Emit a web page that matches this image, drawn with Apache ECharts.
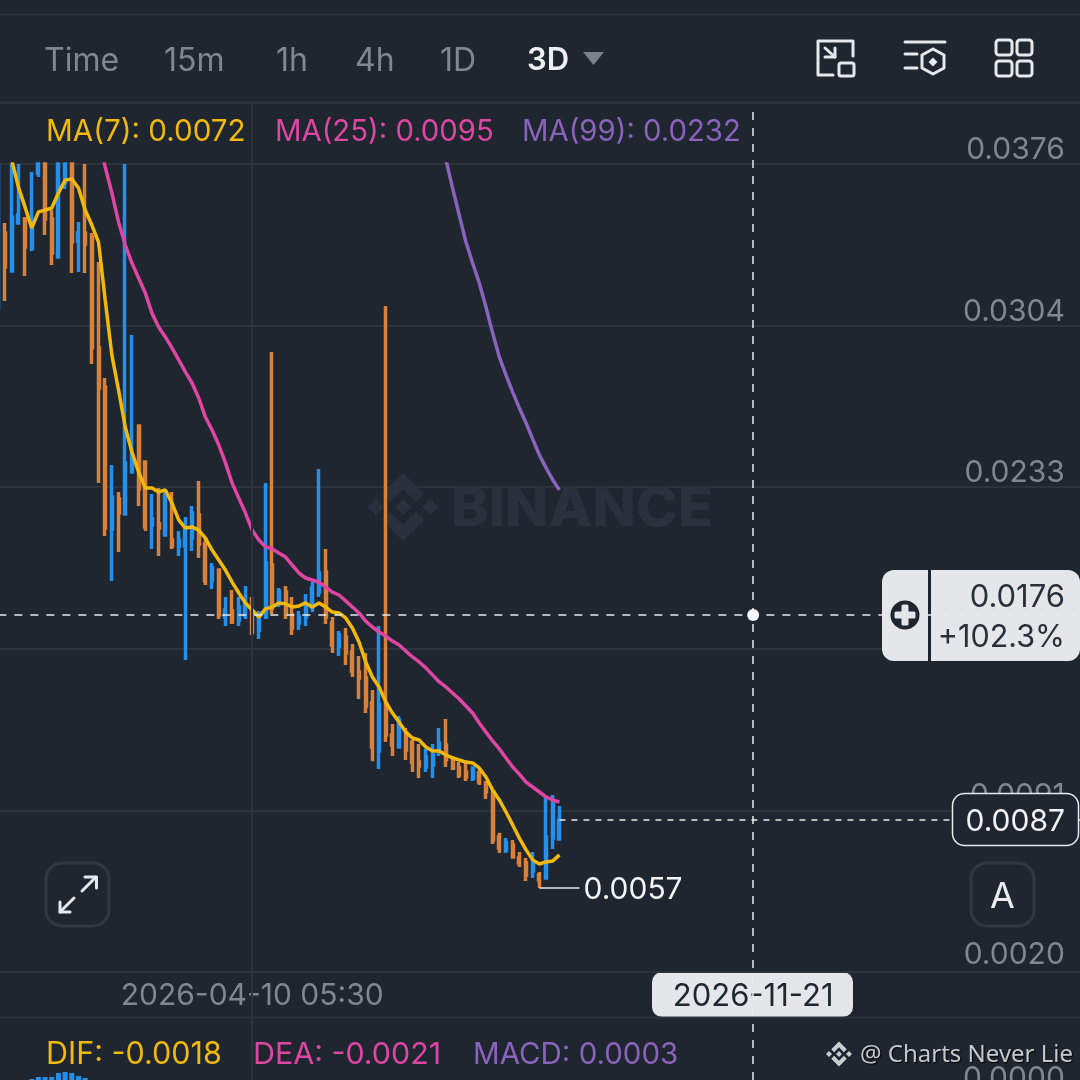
<!DOCTYPE html>
<html><head><meta charset="utf-8">
<style>html,body{margin:0;padding:0;background:#1f2630}#c{width:1080px;height:1080px}</style>
<script src="https://cdn.jsdelivr.net/npm/echarts@6/dist/echarts.min.js"></script>
</head><body><div id="c"></div>
<script>
const opens=[.03412,.03456,.03289,.03500,.03518,.03390,.03720,.03760,.03518,.03350,.03676,.03760,.03421,.03456,.03438,.02950,.02777,.02152,.02284,.02218,.02403,.02606,.02447,.02169,.02174,.02125,.02103,.02077,.02077,.02112,.02214,.02086,.01927,.01971,.01764,.01791,.01751,.01773,.01786,.01707,.01764,.01993,.01822,.01874,.01773,.01738,.01764,.01808,.01874,.01962,.01738,.01636,.01676,.01610,.01522,.01495,.01385,.01174,.01363,.01244,.01191,.01253,.01213,.01125,.01103,.01112,.01169,.01200,.01134,.01099,.01081,.01055,.01077,.01033,.00993,.00795,.00738,.00759,.00702,.00680,.00645,.00627,.00614,.00790,.00786];
const closes=[.03460,.03306,.03527,.03535,.03394,.03469,.03760,.03518,.03368,.03760,.03760,.03416,.03456,.03408,.02950,.02773,.02156,.02293,.02222,.02443,.02478,.02328,.02161,.02196,.02156,.02302,.02077,.02103,.02147,.02222,.02086,.01923,.01980,.01773,.01795,.01742,.01808,.01826,.01698,.01764,.02002,.01804,.01879,.01782,.01716,.01764,.01808,.01892,.01958,.01764,.01641,.01685,.01605,.01526,.01495,.01372,.01191,.01381,.01244,.01200,.01310,.01178,.01125,.01108,.01147,.01156,.01209,.01134,.01099,.01068,.01059,.01099,.01037,.00993,.00782,.00746,.00768,.00707,.00680,.00627,.00685,.00605,.00795,.00945,.00870];
const lows=[.03117,.03156,.03289,.03500,.03266,.03377,.03703,.03447,.03315,.03346,.03650,.03280,.03284,.03280,.02879,.02354,.02121,.01923,.02051,.02218,.02403,.02253,.02143,.02064,.02033,.02121,.02064,.02033,.01575,.02055,.02024,.01905,.01888,.01755,.01724,.01733,.01724,.01755,.01685,.01667,.01755,.01777,.01808,.01755,.01685,.01707,.01724,.01786,.01852,.01733,.01605,.01592,.01553,.01500,.01403,.01341,.01129,.01094,.01213,.01152,.01187,.01134,.01081,.01055,.01081,.01055,.01152,.01103,.01090,.01055,.01041,.01041,.01024,.00962,.00764,.00724,.00724,.00702,.00663,.00601,.00614,.00570,.00614,.00742,.00786];
const highs=[.03760,.03500,.03760,.03760,.03527,.03725,.03760,.03760,.03557,.03760,.03760,.03760,.03505,.03760,.03456,.03328,.02817,.02434,.02315,.03760,.03007,.02606,.02452,.02306,.02332,.02324,.02315,.02143,.02205,.02253,.02363,.02116,.02002,.01976,.01852,.01883,.01852,.01901,.01852,.01791,.02354,.02932,.01892,.01901,.01852,.01791,.01865,.01918,.02416,.02064,.01764,.01702,.01716,.01645,.01592,.01605,.01442,.01724,.03134,.01293,.01328,.01275,.01222,.01205,.01183,.01205,.01275,.01315,.01152,.01125,.01121,.01103,.01099,.01041,.01002,.00813,.00790,.00782,.00729,.00702,.00729,.00641,.00971,.00980,.00931];
const ma7=[null,.04000,.03778,.03659,.03570,.03478,.03549,.03557,.03566,.03632,.03689,.03694,.03654,.03557,.03491,.03416,.03161,.02918,.02764,.02601,.02491,.02403,.02332,.02332,.02315,.02324,.02266,.02192,.02156,.02161,.02147,.02112,.02059,.02015,.01971,.01918,.01870,.01826,.01795,.01764,.01800,.01808,.01826,.01822,.01808,.01813,.01826,.01808,.01826,.01808,.01786,.01782,.01760,.01716,.01654,.01566,.01500,.01456,.01390,.01341,.01301,.01257,.01231,.01222,.01191,.01174,.01174,.01156,.01143,.01134,.01125,.01121,.01099,.01059,.01002,.00958,.00905,.00848,.00790,.00738,.00694,.00676,.00685,.00689,.00716];
const ma25=[null,null,null,null,null,null,null,null,null,null,null,null,null,null,null,.03866,.03747,.03632,.03505,.03403,.03324,.03258,.03192,.03103,.03042,.02998,.02950,.02897,.02844,.02795,.02729,.02645,.02588,.02522,.02443,.02354,.02288,.02222,.02147,.02103,.02073,.02064,.02046,.02028,.01993,.01958,.01936,.01927,.01918,.01896,.01874,.01861,.01835,.01808,.01782,.01746,.01720,.01698,.01680,.01658,.01641,.01614,.01588,.01566,.01540,.01509,.01478,.01456,.01429,.01403,.01372,.01341,.01297,.01257,.01218,.01183,.01143,.01103,.01072,.01037,.01015,.00993,.00971,.00958,.00949];
const ma99=Array(66).fill(null).concat([.03888,.03780,.03654,.03535,.03416,.03324,.03236,.03130,.03015,.02910,.02830,.02755,.02685,.02619,.02548,.02478,.02421,.02368,.02324]);
const macdBars=[null,null,null,null,null,.00075,.00085,.00085,.00085,.00105,.0011,.00105,.0009,.0008];
const yTickLabels=['0.0020','0.0091','0.0162','0.0233','0.0304','0.0376'];
const timeframes=['Time','15m','1h','4h','1D','3D'];
const legendTop=['MA(7): 0.0072','MA(25): 0.0095','MA(99): 0.0232'];
const legendBottom=['DIF: -0.0018','DEA: -0.0021','MACD: 0.0003'];
const dateTick='2026-04-10 05:30', crossDate='2026-11-21';
const crossLabel='0.0176', crossLevel=0.01773, crossPct='+102.3%', lastPrice=0.0087, minPrice=0.0057;

const BAR=6.68, COUNT=163, I_DATE=38, I_CROSS=113, I_LAST=84, I_MIN=81;
const categories=[];
for(let i=0;i<COUNT;i++){
  const d=new Date(Date.UTC(2026,3,10)+(i-I_DATE)*3*864e5);
  categories.push(d.toISOString().slice(0,10));
}
const BG='#1f2630', GRID='#2d333d', UP='#2490ea', DOWN='#d8813a', Y='#f0b90b', P='#df46a3', V='#8a63bd', GREY='#7f8791', FONT='Inter';
const candle=opens.map((o,i)=>[o,closes[i],lows[i],highs[i]]);
const gridBase={left:-5.02,width:BAR*COUNT,outerBoundsMode:'none'};
const hiddenX=g=>({type:'category',gridIndex:g,data:categories,show:false});

const T=(x,y,text,fill,size,align,extra)=>({type:'text',x,y,z:20,silent:true,style:Object.assign({text,fill,font:(extra&&extra.w||'400')+' '+size+'px '+(extra&&extra.f||FONT),align:align||'left',verticalAlign:'middle'},extra&&extra.s)});
const L=(x1,y1,x2,y2,stroke,lw,z)=>({type:'line',z:z||1,silent:true,shape:{x1,y1,x2,y2},style:{stroke,lineWidth:lw}});
const PL=(pts,stroke,lw)=>({type:'polyline',z:20,silent:true,shape:{points:pts},style:{stroke,lineWidth:lw,fill:null,lineCap:'round',lineJoin:'round'}});
const R=(x,y,w,h,r,fill,stroke,lw,z)=>({type:'rect',z:z||20,silent:true,shape:{x,y,width:w,height:h,r},style:{fill:fill||null,stroke:stroke||null,lineWidth:lw||0}});
function logo(cx,cy,s,fill,z){
  const shapes=[
    [[0,-8],[8,0],[0,8],[-8,0]],
    [[-27,-8],[-19,0],[-27,8],[-35,0]],
    [[27,-8],[35,0],[27,8],[19,0]],
    [[0,-34],[21,-13],[13,-5],[0,-18],[-13,-5],[-21,-13]],
    [[0,34],[21,13],[13,5],[0,18],[-13,5],[-21,13]]
  ];
  return shapes.map(p=>({type:'polygon',z,silent:true,shape:{points:p.map(q=>[cx+q[0]*s,cy+q[1]*s])},style:{fill}}));
}
const tfX=[44,164,276,355,440,527];
const ICON='#e6e8ec';
const graphics=[
  L(0,14.5,1080,14.5,GRID,2),
  L(0,102.5,1080,102.5,'#2b313b',3),
  L(0,1017.5,1080,1017.5,GRID,2),
  ...logo(403,507,1,'#2b313c',1),
  {type:'text',x:451,y:510,scaleX:1.053,z:1,silent:true,style:{text:'BINANCE',fill:'#2b313c',font:'800 54px Inter',align:'left',verticalAlign:'middle'}},
  R(652,972,201,45,10,'#e4e6ea',null,0,-1),
  ...timeframes.map((t,i)=>T(tfX[i],61,t,i===5?'#eef0f3':GREY,i===5?31:32,'left',i===5?{w:'600'}:null)),
  {type:'polygon',z:20,silent:true,shape:{points:[[583,52],[604,52],[593.5,65]]},style:{fill:'#7b818a'}},
  PL([[833,75],[818,75],[818,41],[853,41],[853,56]],ICON,3),
  PL([[825,48],[835,57]],ICON,3),PL([[825,57],[835,57],[835,48]],ICON,3),
  R(839,63,15,13,2,null,ICON,3),
  PL([[905,42],[945,42]],ICON,3),PL([[905,54],[917,54]],ICON,3),PL([[905,68],[917,68]],ICON,3),
  PL([[933,49],[944,55],[944,68],[933,74],[922,68],[922,55],[933,49]],ICON,3),
  {type:'polygon',z:20,silent:true,shape:{points:[[933,57.5],[937.5,62],[933,66.5],[928.5,62]]},style:{fill:ICON}},
  R(996,40,16,15,3,null,ICON,3),R(1017,40,15,15,3,null,ICON,3),R(996,61,16,15,3,null,ICON,3),R(1017,61,15,15,3,null,ICON,3),
  T(46,132,legendTop[0],Y,29.6),T(275,132,legendTop[1],P,29.3),T(522,132,legendTop[2],V,29.3),
  T(46,1055,legendBottom[0],Y,30.5),T(253,1055,legendBottom[1],P,30.4),T(473,1055,legendBottom[2],V,29.5),
  R(46,863,63,63,16,BG,'#323843',3),
  PL([[82,891],[96,877]],ICON,3),PL([[85,877],[96.5,877],[96.5,888]],ICON,3),
  PL([[74,898],[60,912]],ICON,3),PL([[60,902],[60,912],[70,912]],ICON,3),
  R(971,863,63,63,16,BG,'#323843',3),
  T(1002.5,897,'A','#eaecef',36,'center'),
  R(882,570,198,91,12,'#e4e6ea',null,0,3),
  {type:'rect',z:4,silent:true,shape:{x:928,y:570,width:3,height:91},style:{fill:BG}},
  {type:'circle',z:20,silent:true,shape:{cx:905,cy:615,r:14.5},style:{fill:BG}},
  {type:'rect',z:21,silent:true,shape:{x:901.5,y:604.5,width:7,height:21,r:1.5},style:{fill:'#e4e6ea'}},
  {type:'rect',z:21,silent:true,shape:{x:894.5,y:611.5,width:21,height:7,r:1.5},style:{fill:'#e4e6ea'}},
  T(1065,598,crossLabel,'#2a303a',31,'right'),
  T(1065,638,crossPct,'#2a303a',30.5,'right'),
  R(952.5,793.5,126,52,12,BG,'#e8eaed',1.5,18),
  T(1065,822,lastPrice.toFixed(4),'#f2f3f5',30,'right'),
  ...logo(839,1054,0.37,'#c9ced5',20),
  T(860,1055,'@ Charts Never Lie','#c4c9d0',24,'left',{f:'"Noto Sans"',s:{textShadowColor:'#000',textShadowBlur:1,textShadowOffsetX:1,textShadowOffsetY:1}})
];

const chart=echarts.init(document.getElementById('c'),null,{renderer:'canvas'});
chart.setOption({
  animation:false,backgroundColor:BG,
  grid:[
    Object.assign({top:164,height:808},gridBase),
    Object.assign({top:104,height:976},gridBase),
    Object.assign({top:1030,height:64},gridBase)
  ],
  xAxis:[
    {type:'category',gridIndex:0,data:categories,boundaryGap:true,
     axisLine:{show:false},axisTick:{show:false},splitLine:{show:false},
     axisLabel:{show:true,margin:9,hideOverlap:false,interval:i=>i===I_DATE||i===I_CROSS,
       formatter:(v,i)=>i===I_DATE?'{plain|'+dateTick+'}':'{pill|'+crossDate+'}',
       rich:{
         plain:{color:GREY,fontFamily:FONT,fontSize:30},
         pill:{color:'#1f2630',fontFamily:FONT,fontSize:31}
       }}},
    hiddenX(1),hiddenX(2)
  ],
  yAxis:[
    {type:'value',gridIndex:0,position:'right',min:0.002,max:0.0376,interval:0.00712,
     axisLine:{show:false},axisTick:{show:false},
     splitLine:{show:true,lineStyle:{color:GRID,width:2}},
     axisLabel:{inside:true,margin:19,color:GREY,fontFamily:FONT,fontSize:30,lineHeight:28,verticalAlign:'bottom',
       formatter:(v,i)=>i===0?'{low|'+yTickLabels[i]+'}':yTickLabels[i],
       rich:{low:{color:GREY,fontFamily:FONT,fontSize:30,lineHeight:28,padding:[0,0,6,0]}}}},
    {type:'value',gridIndex:1,show:false,min:0,max:1},
    {type:'value',gridIndex:2,position:'right',min:0,max:0.0032,interval:0.0032,
     axisLine:{show:false},axisTick:{show:false},splitLine:{show:false},
     axisLabel:{inside:true,margin:19,color:GREY,fontFamily:FONT,fontSize:30,verticalAlign:'bottom',
       formatter:(v,i)=>i===0?v.toFixed(4):''}}
  ],
  series:[
    {type:'line',xAxisIndex:1,yAxisIndex:1,data:[],silent:true,z:1,
     markLine:{silent:true,symbol:'none',label:{show:false},animation:false,
       data:[{xAxis:I_DATE,lineStyle:{color:GRID,width:2,type:'solid'}}]}},
    {type:'candlestick',xAxisIndex:0,yAxisIndex:0,data:candle,barWidth:1.5,clip:true,z:3,
     itemStyle:{color:UP,color0:DOWN,borderColor:UP,borderColor0:DOWN,borderWidth:3.5}},
    {type:'line',name:'MA7',xAxisIndex:0,yAxisIndex:0,data:ma7,symbol:'none',clip:true,z:4,lineStyle:{color:Y,width:3.5}},
    {type:'line',name:'MA25',xAxisIndex:0,yAxisIndex:0,data:ma25,symbol:'none',clip:true,z:4,lineStyle:{color:P,width:3.5}},
    {type:'line',name:'MA99',xAxisIndex:0,yAxisIndex:0,data:ma99,symbol:'none',clip:true,z:4,lineStyle:{color:V,width:3.5}},
    {type:'bar',xAxisIndex:2,yAxisIndex:2,data:macdBars,barWidth:5,itemStyle:{color:UP},z:3},
    {type:'line',xAxisIndex:1,yAxisIndex:1,data:[],silent:true,z:6,
     markLine:{silent:true,symbol:'none',label:{show:false},animation:false,
       data:[{xAxis:I_CROSS,lineStyle:{color:'#e8eaed',width:1.5,type:[8,8]}}]}},
    {type:'line',xAxisIndex:0,yAxisIndex:0,data:[],silent:true,z:6,
     markLine:{silent:true,symbol:'none',animation:false,label:{show:false},
       data:[
         [{coord:[0,crossLevel],lineStyle:{color:'#e8eaed',width:1.5,type:[8,8]}},{coord:[COUNT-1,crossLevel]}],
         [{coord:[I_LAST,lastPrice],lineStyle:{color:'#e8eaed',width:1.5,type:[6,6]}},{coord:[COUNT-1,lastPrice]}],
         [{coord:[I_MIN,minPrice],lineStyle:{color:'#e8eaed',width:1.5,type:'solid'},
           label:{show:true,position:'end',distance:4,offset:[0,2],formatter:minPrice.toFixed(4),color:'#f4f5f7',fontFamily:FONT,fontSize:30}},{coord:[I_MIN+6,minPrice]}]
       ]}},
    {type:'scatter',xAxisIndex:0,yAxisIndex:0,data:[[I_CROSS,crossLevel]],symbolSize:12,silent:true,z:7,itemStyle:{color:'#f4f5f7',opacity:1}}
  ],
  graphic:{elements:graphics}
});
</script></body></html>
